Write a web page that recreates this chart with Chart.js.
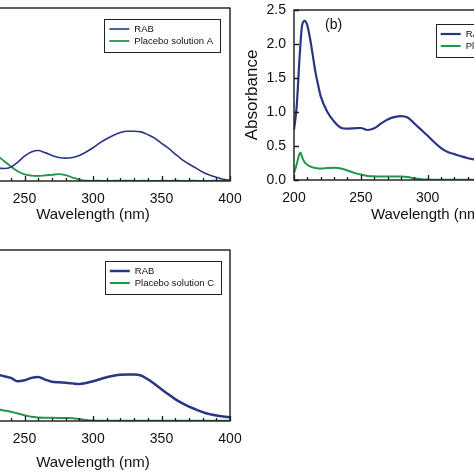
<!DOCTYPE html>
<html>
<head>
<meta charset="utf-8">
<script src="https://cdn.jsdelivr.net/npm/chart.js@4"></script>
<style>
  html, body { margin: 0; padding: 0; background: #fff; width: 474px; height: 474px; overflow: hidden; position: relative; }
  .panel { position: absolute; }
</style>
</head>
<body>
<div class="panel" style="left:-110px; top:0px;"><canvas id="chartA" width="380" height="232"></canvas></div>
<div class="panel" style="left:234px; top:0px;"><canvas id="chartB" width="340" height="232"></canvas></div>
<div class="panel" style="left:-110px; top:240px;"><canvas id="chartC" width="380" height="234"></canvas></div>
<script>
// tick labels
const xTicks = [200, 250, 300, 350, 400];
const yTicks = [0, 0.5, 1.0, 1.5, 2.0, 2.5];

// panel (a)
const wlA = [220, 225, 230, 235, 240, 245, 250, 255, 260, 265, 270, 275, 280, 285, 290, 295, 300,
  305, 310, 315, 320, 325, 330, 335, 340, 345, 350, 355, 360, 365, 370, 375, 380, 385, 390, 395, 400];
const rabA = [0.24, 0.21, 0.19, 0.18, 0.20, 0.27, 0.36, 0.42, 0.44, 0.41, 0.37, 0.34, 0.33, 0.34, 0.37, 0.42, 0.48,
  0.55, 0.61, 0.66, 0.70, 0.72, 0.72, 0.71, 0.67, 0.62, 0.545, 0.475, 0.39, 0.31, 0.245, 0.19, 0.13, 0.087, 0.055, 0.025, 0.01];
const placeboA = [0.58, 0.47, 0.37, 0.29, 0.21, 0.14, 0.095, 0.078, 0.072, 0.08, 0.09, 0.10, 0.085, 0.05, 0.02, 0.005, 0.003,
  0.004, 0.002, 0.004, 0.003, 0.005, 0.002, 0.004, 0.003, 0.002, 0.004, 0.003, 0.005, 0.002, 0.003, 0.004, 0.002, 0.003, 0.004, 0.003, 0.005];

// panel (b)
const wlB = [200, 202, 204, 205, 206, 208, 210, 212, 214, 216, 218, 220, 225, 230, 235, 240, 245, 250, 255, 260,
  265, 270, 275, 280, 285, 290, 295, 300, 305, 310, 315, 320, 325, 330, 335, 340, 345, 350, 360, 370, 380, 390, 400];
const rabB = [0.74, 1.08, 1.75, 2.05, 2.27, 2.34, 2.27, 2.08, 1.84, 1.59, 1.40, 1.23, 1.00, 0.86, 0.77, 0.755, 0.76, 0.765, 0.735, 0.76,
  0.83, 0.89, 0.925, 0.94, 0.92, 0.83, 0.74, 0.65, 0.555, 0.47, 0.41, 0.38, 0.35, 0.32, 0.30, 0.27, 0.245, 0.22, 0.17, 0.13, 0.09, 0.06, 0.04];
const placeboB = [0.10, 0.23, 0.38, 0.40, 0.34, 0.26, 0.225, 0.20, 0.185, 0.175, 0.17, 0.17, 0.175, 0.18, 0.17, 0.14, 0.105, 0.08, 0.06, 0.055,
  0.05, 0.05, 0.05, 0.05, 0.045, 0.025, 0.012, 0.006, 0.004, 0.003, 0.004, 0.003, 0.004, 0.002, 0.003, 0.004, 0.003, 0.002, 0.003, 0.004, 0.003, 0.002, 0.003];

// panel (c)
const wlC = wlA;
const rabC = [0.74, 0.70, 0.68, 0.655, 0.63, 0.58, 0.595, 0.63, 0.645, 0.605, 0.575, 0.565, 0.56, 0.55, 0.54, 0.555, 0.58,
  0.61, 0.64, 0.66, 0.675, 0.68, 0.68, 0.665, 0.61, 0.54, 0.465, 0.39, 0.32, 0.26, 0.21, 0.17, 0.13, 0.10, 0.08, 0.065, 0.055];
const placeboC = [0.25, 0.21, 0.175, 0.155, 0.135, 0.11, 0.085, 0.062, 0.052, 0.048, 0.046, 0.045, 0.045, 0.04, 0.028, 0.015, 0.006,
  0.004, 0.003, 0.004, 0.003, 0.004, 0.003, 0.004, 0.003, 0.004, 0.003, 0.004, 0.003, 0.004, 0.003, 0.004, 0.003, 0.004, 0.003, 0.004, 0.003];

const NAVY = '#2a3585';
const GREEN = '#22964c';
const FONT = "'Liberation Sans', Arial, sans-serif";

// frame, inward ticks, legend box and panel letter
const framePlugin = {
  id: 'frame',
  afterDatasetsDraw(chart, args, opts) {
    const { ctx, chartArea: a, scales: { x, y } } = chart;
    ctx.save();
    ctx.strokeStyle = '#1b1b1b';
    ctx.lineWidth = 1.3;
    ctx.beginPath();
    for (let v = 200; v <= 400; v += 10) {
      const px = Math.round(x.getPixelForValue(v)) + 0.5;
      const len = v % 50 === 0 ? 5 : 3;
      ctx.moveTo(px, a.bottom);
      ctx.lineTo(px, a.bottom - len);
    }
    yTicks.forEach(v => {
      const py = Math.round(y.getPixelForValue(v)) + 0.5;
      ctx.moveTo(a.left, py);
      ctx.lineTo(a.left + 5, py);
    });
    ctx.stroke();
    ctx.lineWidth = 1.4;
    ctx.strokeRect(a.left, a.top, a.width, a.height);

    // legend
    ctx.font = '9.5px ' + FONT;
    const sets = chart.data.datasets;
    const textW = Math.max(...sets.map(d => ctx.measureText(d.label).width));
    const boxW = 5 + 20 + 5 + textW + 7;
    const bx = a.right - opts.right - boxW;
    const by = a.top + opts.top;
    ctx.lineWidth = 1;
    ctx.strokeStyle = '#222';
    ctx.strokeRect(Math.round(bx) + 0.5, Math.round(by) + 0.5, Math.round(boxW), 33);
    sets.forEach((d, i) => {
      const ly = by + 10 + i * 12;
      ctx.strokeStyle = d.borderColor;
      ctx.lineWidth = d.legendWidth;
      ctx.beginPath();
      ctx.moveTo(bx + 5, ly);
      ctx.lineTo(bx + 25, ly);
      ctx.stroke();
      ctx.fillStyle = '#111';
      ctx.textBaseline = 'middle';
      ctx.fillText(d.label, bx + 30, ly);
    });

    if (opts.letter) {
      ctx.font = '14px ' + FONT;
      ctx.fillStyle = '#111';
      ctx.textBaseline = 'middle';
      ctx.fillText(opts.letter, a.left + 31, a.top + 15);
    }
    ctx.restore();
  }
};

function series(wl, vals) {
  return wl.map((w, i) => ({ x: w, y: vals[i] }));
}

function makePanel(id, cfg) {
  new Chart(document.getElementById(id), {
    type: 'line',
    data: {
      datasets: [
        { label: 'RAB', data: series(cfg.wl, cfg.rab), borderColor: NAVY, borderWidth: cfg.rabWidth, legendWidth: cfg.rabWidth },
        { label: cfg.placeboLabel, data: series(cfg.wl, cfg.placebo), borderColor: GREEN, borderWidth: cfg.placeboWidth, legendWidth: cfg.placeboWidth }
      ]
    },
    options: {
      responsive: false,
      animation: false,
      devicePixelRatio: 1,
      layout: { padding: { left: 0, right: cfg.padRight, top: cfg.padTop, bottom: 0 } },
      elements: { point: { radius: 0 }, line: { cubicInterpolationMode: 'monotone' } },
      plugins: {
        legend: { display: false },
        tooltip: { enabled: false },
        frame: { right: cfg.legendRight, top: cfg.legendTop, letter: cfg.letter }
      },
      scales: {
        x: {
          type: 'linear', min: 200, max: 400,
          afterBuildTicks: s => { s.ticks = xTicks.map(v => ({ value: v })); },
          afterFit: s => { s.height = cfg.xHeight; s.paddingLeft = 0; s.paddingRight = 0; },
          grid: { display: false, drawTicks: false },
          border: { display: false },
          ticks: { color: '#111', font: { family: FONT, size: 14 }, padding: 10, maxRotation: 0, callback: v => String(v) },
          title: { display: true, text: 'Wavelength (nm)', color: '#111', font: { family: FONT, size: 15 }, padding: { top: 0, bottom: cfg.titlePad } }
        },
        y: {
          type: 'linear', min: 0, max: 2.5,
          afterBuildTicks: s => { s.ticks = yTicks.map(v => ({ value: v })); },
          afterFit: s => { s.width = cfg.yWidth; s.paddingTop = 0; s.paddingBottom = 0; },
          grid: { display: false, drawTicks: false },
          border: { display: false },
          ticks: { color: '#111', font: { family: FONT, size: 14 }, padding: 8, callback: v => v.toFixed(1) },
          title: { display: true, text: 'Absorbance', color: '#111', font: { family: FONT, size: 17 }, padding: { top: 8, bottom: 0 } }
        }
      }
    },
    plugins: [framePlugin]
  });
}

makePanel('chartA', { wl: wlA, rab: rabA, placebo: placeboA, placeboLabel: 'Placebo solution A',
  rabWidth: 1.6, placeboWidth: 1.8, padRight: 40, padTop: 8, xHeight: 51, yWidth: 66, titlePad: 8.5,
  legendRight: 10, legendTop: 11 });
makePanel('chartB', { wl: wlB, rab: rabB, placebo: placeboB, placeboLabel: 'Placebo solution B',
  rabWidth: 2.2, placeboWidth: 2, padRight: 12.6, padTop: 10, xHeight: 52, yWidth: 60, titlePad: 8.5,
  legendRight: 10, legendTop: 14, letter: '(b)' });
makePanel('chartC', { wl: wlC, rab: rabC, placebo: placeboC, placeboLabel: 'Placebo solution C',
  rabWidth: 2.5, placeboWidth: 2, padRight: 40, padTop: 10, xHeight: 53, yWidth: 66, titlePad: 2,
  legendRight: 9, legendTop: 11 });
</script>
</body>
</html>
